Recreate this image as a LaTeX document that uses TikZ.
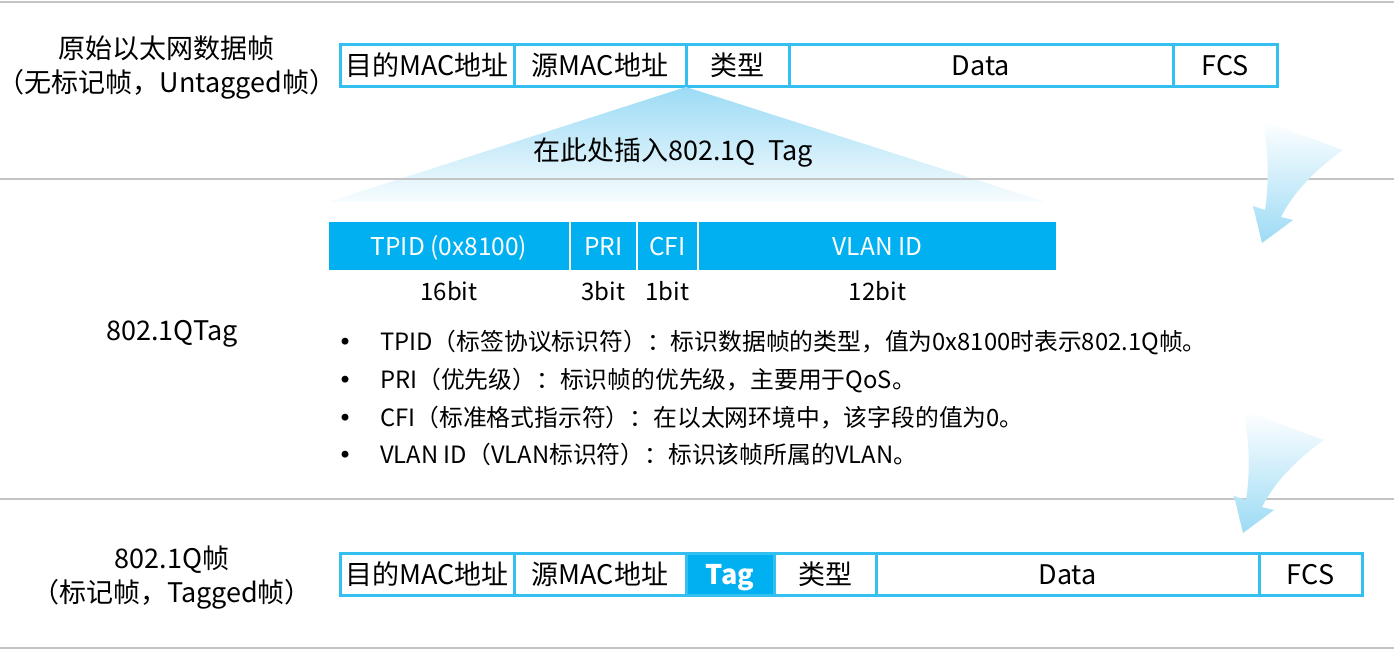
\documentclass[tikz,border=0pt]{standalone}
\usepackage{fontspec}
\setmainfont{Noto Sans CJK SC}
\newfontfamily\dotfont{DejaVu Sans}
\usetikzlibrary{positioning}
\definecolor{framecyan}{HTML}{33BFEF}
\definecolor{tagcyan}{HTML}{00B0F0}
\definecolor{linegray}{HTML}{C4C4C4}
\definecolor{fadeblue}{HTML}{9CDBF5}

\begin{document}
\begin{tikzpicture}[x=1pt, y=-1pt,
    cell/.style={rectangle, draw=framecyan, line width=3pt, minimum height=42pt, inner sep=0pt, outer sep=0pt,
                 text height=22pt, text depth=2pt, font=\fontsize{27}{30}\selectfont},
    tagcell/.style={cell, fill=tagcyan, text=white, font=\fontsize{27}{30}\selectfont\bfseries},
    field/.style={rectangle, fill=tagcyan, draw=white, line width=2pt, minimum height=50pt, inner sep=0pt, outer sep=0pt,
                  text=white, text height=20pt, text depth=2pt, font=\fontsize{24.5}{28}\selectfont},
    bits/.style={inner sep=0pt, text height=20pt, text depth=2pt, font=\fontsize{24}{28}\selectfont},
    label/.style={align=center, font=\fontsize{27}{34}\selectfont},
    note/.style={anchor=west, inner sep=0pt, font=\fontsize{23.8}{28}\selectfont},
    sep/.style={draw=linegray, line width=2pt}]
    \useasboundingbox (0,0) rectangle (1394,650);

    % Nodes
    \node[cell, minimum width=174pt, anchor=west] (dmac) at (340,66) {目的MAC地址};
    \node[cell, minimum width=172pt, right=0pt of dmac] (smac) {源MAC地址};
    \node[cell, minimum width=103pt, right=0pt of smac] (type) {类型};
    \node[cell, minimum width=384pt, right=0pt of type] (data) {Data};
    \node[cell, minimum width=104pt, right=0pt of data] (fcs) {FCS};
    \node[label] (untagged) at (167,68) {原始以太网数据帧\\（无标记帧，Untagged帧）};

    % insert wedge
    \shade[top color=fadeblue, bottom color=fadeblue!8] (smac.south east) -- (1046,202) -- (328,202) -- cycle;
    \node[label] (insert) at (673,153) {在此处插入802.1Q\ \ Tag};

    \node[field, minimum width=242pt, anchor=west] (tpid) at (328,246) {TPID (0x8100)};
    \node[field, minimum width=67pt, right=0pt of tpid] (pri) {PRI};
    \node[field, minimum width=61pt, right=0pt of pri] (cfi) {CFI};
    \node[field, minimum width=359pt, right=0pt of cfi] (vid) {VLAN ID};
    \node[bits, below=9pt of tpid] (tpidbits) {16bit};
    \node[bits, below=9pt of pri] (pribits) {3bit};
    \node[bits, below=9pt of cfi] (cfibits) {1bit};
    \node[bits, below=9pt of vid] (vidbits) {12bit};

    \node[label] (qtag) at (172,334) {802.1QTag};
    \node[note] (tpidnote) at (338,343) {\makebox[42pt][l]{\dotfont •}TPID（标签协议标识符）：标识数据帧的类型，值为0x8100时表示802.1Q帧。};
    \node[note, below=37.3pt of tpidnote.west, anchor=west] (prinote) {\makebox[42pt][l]{\dotfont •}PRI（优先级）：标识帧的优先级，主要用于QoS。};
    \node[note, below=37.3pt of prinote.west, anchor=west] (cfinote) {\makebox[42pt][l]{\dotfont •}CFI（标准格式指示符）：在以太网环境中，该字段的值为0。};
    \node[note, below=37.3pt of cfinote.west, anchor=west] (vidnote) {\makebox[42pt][l]{\dotfont •}VLAN ID（VLAN标识符）：标识该帧所属的VLAN。};

    \node[cell, minimum width=174pt, anchor=west] (dmac2) at (340,574) {目的MAC地址};
    \node[cell, minimum width=172pt, right=0pt of dmac2] (smac2) {源MAC地址};
    \node[tagcell, minimum width=88pt, right=0pt of smac2] (tag2) {Tag};
    \node[cell, minimum width=102pt, right=0pt of tag2] (type2) {类型};
    \node[cell, minimum width=383pt, right=0pt of type2] (data2) {Data};
    \node[cell, minimum width=103pt, right=0pt of data2] (fcs2) {FCS};
    \node[label] (tagged) at (172,578) {802.1Q帧\\（标记帧，Tagged帧）};

    % Separators
    \draw[sep] (0,2) -- (1394,2);
    \draw[sep] (0,179) -- (1394,179);
    \draw[sep] (0,499) -- (1394,499);
    \draw[sep] (0,648) -- (1394,648);

    % Arrows
    \shade[top color=white, middle color=fadeblue!20, bottom color=fadeblue]
        (1262,120) .. controls (1269,150) and (1269,185) .. (1265,210) -- (1253,206) -- (1262,243)
        -- (1293,220) -- (1281,217) .. controls (1292,195) and (1312,172) .. (1343,150) -- cycle;
    \shade[top color=white, middle color=fadeblue!20, bottom color=fadeblue, shift={(-19,290)}]
        (1262,120) .. controls (1269,150) and (1269,185) .. (1265,210) -- (1253,206) -- (1262,243)
        -- (1293,220) -- (1281,217) .. controls (1292,195) and (1312,172) .. (1343,150) -- cycle;
\end{tikzpicture}
\end{document}
